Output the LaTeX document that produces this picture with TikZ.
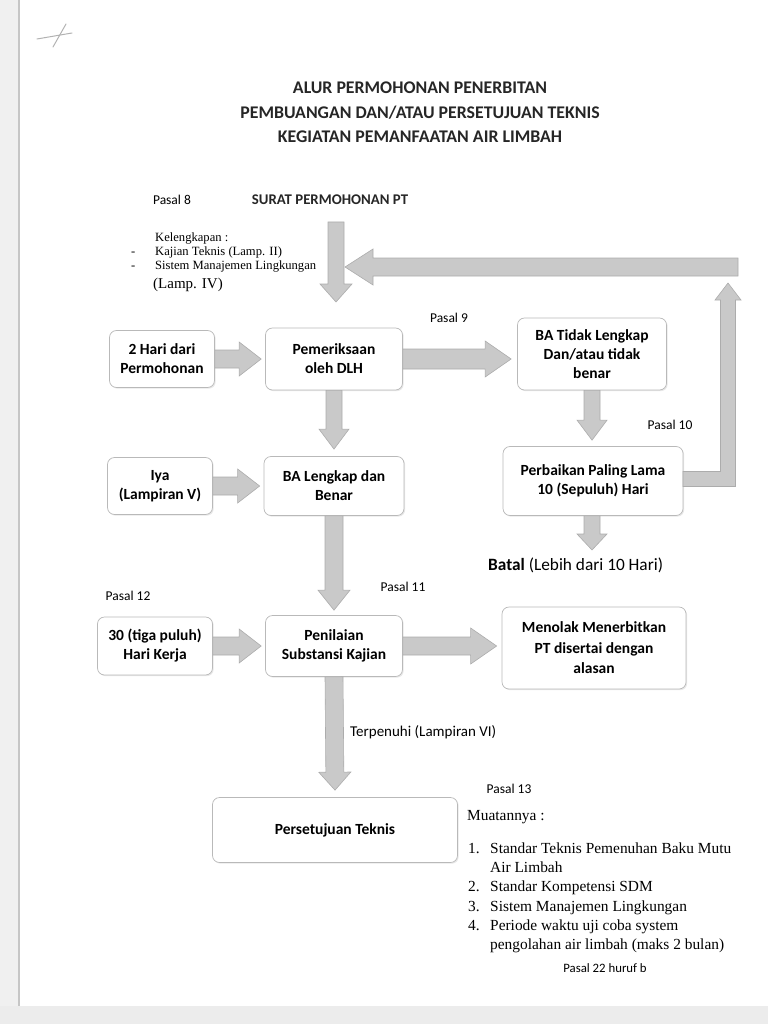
\documentclass[tikz,border=0pt]{standalone}
\usepackage{fontspec}
\setmainfont{Carlito}
\newfontfamily\tnr{Liberation Serif}
\usetikzlibrary{calc,shadows}
\newcommand\fatarrow[5]{%
  \coordinate (faA) at (#1);
  \coordinate (faB) at (#2);
  \coordinate (faP) at ($(faB)!#5pt!(faA)$);
  \filldraw[fatarr] ($(faA)!#3pt!90:(faB)$) -- ($(faP)!#3pt!-90:(faA)$) -- ($(faP)!#4pt!-90:(faA)$) -- (faB)
    -- ($(faP)!#4pt!90:(faA)$) -- ($(faP)!#3pt!90:(faA)$) -- ($(faA)!#3pt!-90:(faB)$) -- cycle;}
\begin{document}
\begin{tikzpicture}[x=1pt,y=-1pt,
  fatarr/.style={fill=gray!42, draw=gray!65, line width=0.6pt},
  box/.style={draw=gray!55, line width=0.7pt, rounded corners=7pt, fill=white, align=center,
    font=\fontsize{15.5}{19}\selectfont\bfseries, inner sep=0pt,
    drop shadow={opacity=0.18, shadow xshift=1.2pt, shadow yshift=-1.2pt}},
  ttl/.style={font=\fontsize{17.8}{20}\selectfont\bfseries, text=black!85},
  pasal/.style={font=\fontsize{13.5}{16}\selectfont, inner sep=0pt},
  tms/.style={font=\tnr\fontsize{12.6}{14}\selectfont, inner sep=0pt, anchor=base west},
  lst/.style={font=\tnr\fontsize{15.4}{18}\selectfont, inner sep=0pt, anchor=base west}]
\useasboundingbox (0,0) rectangle (768,1024);
% scan edges
\fill[gray!12] (0,0) rectangle (18,1024);
\draw[gray!45, line width=1.2pt] (19,0) -- (19,1024);
\fill[gray!15] (0,1006) rectangle (768,1024);
\draw[gray!60, line width=1pt, line cap=round] (37,39) -- (72,33);
\draw[gray!60, line width=1pt, line cap=round] (53,47) -- (66,24);

% titles
\node[ttl] (t1) at (420,88) {ALUR PERMOHONAN PENERBITAN};
\node[ttl] (t2) at (420,113) {PEMBUANGAN DAN/ATAU PERSETUJUAN TEKNIS};
\node[ttl] (t3) at (420,137) {KEGIATAN PEMANFAATAN AIR LIMBAH};

\node[pasal] (p8) at (172,200) {Pasal 8};
\node[font=\fontsize{14.8}{17}\selectfont\bfseries, text=black!85] (surat) at (330,200) {SURAT PERMOHONAN PT};

\node[tms] (kel) at (155,241) {Kelengkapan :};
\node[tms] (d1) at (131,255) {-};
\node[tms] (k1) at (155,255) {Kajian Teknis (Lamp. II)};
\node[tms] (d2) at (131,269) {-};
\node[tms] (k2) at (155,269) {Sistem Manajemen Lingkungan};
\node[tms, font=\tnr\fontsize{15}{17}\selectfont] (k3) at (153,288) {(Lamp. IV)};

% boxes
\node[box, minimum width=105, minimum height=57] (hari) at (162,359) {2 Hari dari\\Permohonan};
\node[box, minimum width=137, minimum height=62] (pem) at (334,359) {Pemeriksaan\\oleh DLH};
\node[box, minimum width=149, minimum height=72] (batidak) at (592,354) {BA Tidak Lengkap\\Dan/atau tidak\\benar};
\node[box, minimum width=105, minimum height=57] (iya) at (160,486) {Iya\\(Lampiran V)};
\node[box, minimum width=140, minimum height=59] (balengkap) at (334,486) {BA Lengkap dan\\Benar};
\node[box, minimum width=180, minimum height=69] (perbaikan) at (593,481) {Perbaikan Paling Lama\\10 (Sepuluh) Hari};
\node[box, minimum width=115, minimum height=58] (tiga) at (155,646) {30 (tiga puluh)\\Hari Kerja};
\node[box, minimum width=137, minimum height=61] (penilaian) at (334,646) {Penilaian\\Substansi Kajian};
\node[box, minimum width=184, minimum height=82, font=\fontsize{15.5}{20.5}\selectfont\bfseries] (menolak) at (594,648) {Menolak Menerbitkan\\PT disertai dengan\\alasan};
\node[box, minimum width=245, minimum height=65] (persetujuan) at (335,830) {Persetujuan Teknis};

% labels
\node[pasal] (p9) at (449,318) {Pasal 9};
\node[pasal] (p10) at (670,425) {Pasal 10};
\node[pasal] (p11) at (403,587) {Pasal 11};
\node[pasal] (p12) at (128,596) {Pasal 12};
\node[pasal] (p13) at (509,789) {Pasal 13};
\node[font=\fontsize{17.3}{20}\selectfont, anchor=west, inner sep=0pt] (batal) at (488,565) {\textbf{Batal} (Lebih dari 10 Hari)};
\node[font=\fontsize{15}{17}\selectfont, anchor=west, inner sep=0pt] (terp) at (350,732) {Terpenuhi (Lampiran VI)};

\node[lst] (muat) at (467,820) {Muatannya :};
\node[lst] (n1) at (468,853) {1.};
\node[lst] (l1) at (490,853) {Standar Teknis Pemenuhan Baku Mutu};
\node[lst] (l1b) at (490,872) {Air Limbah};
\node[lst] (n2) at (468,891) {2.};
\node[lst] (l2) at (490,891) {Standar Kompetensi SDM};
\node[lst] (n3) at (468,911) {3.};
\node[lst] (l3) at (490,911) {Sistem Manajemen Lingkungan};
\node[lst] (n4) at (468,930) {4.};
\node[lst] (l4) at (490,930) {Periode waktu uji coba system};
\node[lst] (l4b) at (490,949) {pengolahan air limbah (maks 2 bulan)};
\node[pasal, font=\fontsize{12.8}{15}\selectfont] (p22) at (605,968) {Pasal 22 huruf b};

% coordinates
\coordinate (sA) at (336,222);
\coordinate (sB) at (336,302);
\coordinate (loopT) at (738,267);
\coordinate (joinP) at (345,267);
\coordinate (loopS) at (683,479);
\coordinate (loopC) at (728,479);
\coordinate (loopE) at (728,283);
\coordinate (batalA) at (592,550);

% arrows
\fatarrow{sA}{sB}{8}{16}{18}
\fatarrow{loopT}{joinP}{9}{18}{28}
\fatarrow{hari.east}{$(pem.west)+(-4,0)$}{9}{17}{22}
\fatarrow{pem.east}{$(batidak.west|-pem.east)+(-6,0)$}{10}{18}{26}
\fatarrow{pem.south}{$(balengkap.north)+(0,-7)$}{8}{15}{20}
\fatarrow{batidak.south}{$(perbaikan.north-|batidak.south)+(0,-6)$}{8}{15}{20}
\fatarrow{iya.east}{$(balengkap.west)+(-4,0)$}{9}{17}{22}
\fatarrow{perbaikan.south-|batalA}{batalA}{8}{15}{16}
\fatarrow{balengkap.south}{$(penilaian.north)+(0,-5)$}{9}{16}{20}
\fatarrow{tiga.east}{$(penilaian.west)+(-4,0)$}{9}{17}{22}
\fatarrow{penilaian.east}{$(menolak.west|-penilaian.east)+(-5,0)$}{9}{18}{26}
\fatarrow{penilaian.south}{$(persetujuan.north)+(0,-7)$}{9}{16}{18}
% loop back from Perbaikan
\filldraw[fatarr] ($(loopS)+(0,7.5)$) -- ($(loopC)+(7.5,7.5)$) -- ($(loopE)+(7.5,17)$) -- ($(loopE)+(13,17)$)
  -- (loopE) -- ($(loopE)+(-13,17)$) -- ($(loopE)+(-7.5,17)$) -- ($(loopC)+(-7.5,-7.5)$) -- ($(loopS)+(0,-7.5)$) -- cycle;
\end{tikzpicture}
\end{document}
